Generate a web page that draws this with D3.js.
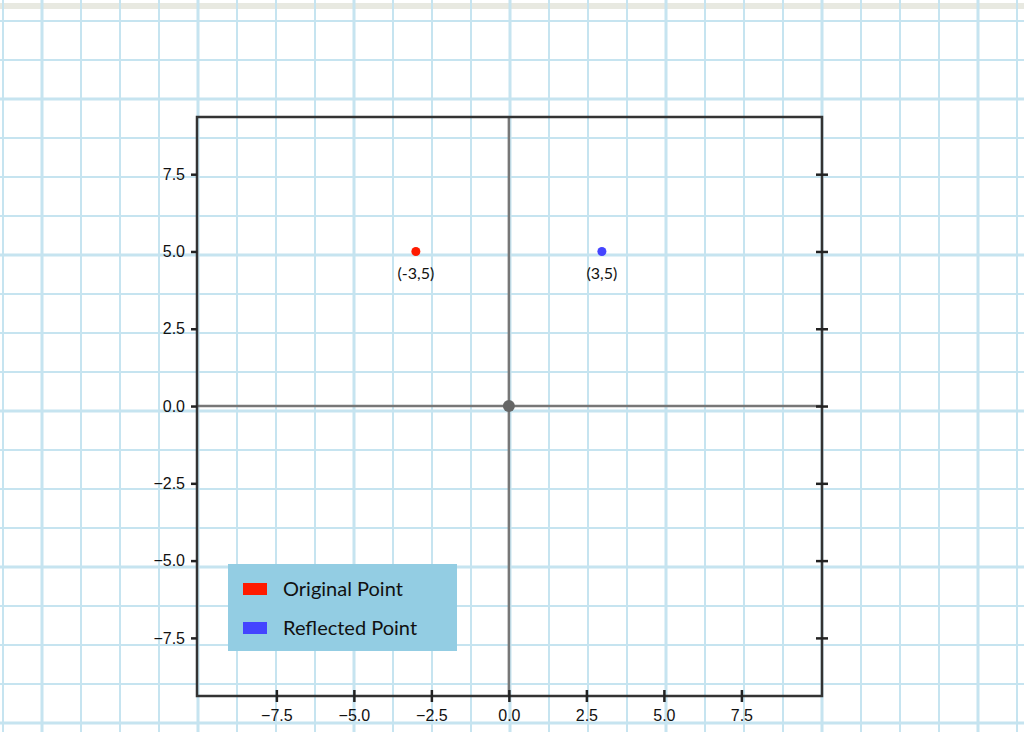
<!DOCTYPE html>
<html><head><meta charset="utf-8">
<script src="https://cdn.jsdelivr.net/npm/d3@7"></script>
<style>body{margin:0;background:#fff;}svg{display:block;font-family:Lato,"Open Sans",sans-serif;}</style>
</head><body>
<svg id="c" width="1024" height="732"></svg>
<script>
const points = [
  {name: "Original Point", x: -3, y: 5, label: "(-3,5)", color: "#ff1a00"},
  {name: "Reflected Point", x: 3, y: 5, label: "(3,5)", color: "#4444ff"}
];
const xTicks = [-7.5, -5, -2.5, 0, 2.5, 5, 7.5];
const yTicks = [-7.5, -5, -2.5, 0, 2.5, 5, 7.5];

const svg = d3.select("#c");
const W = 1024, H = 732;

// graph paper background
const bg = svg.append("g");
bg.append("rect").attr("x", 0).attr("y", 3).attr("width", W).attr("height", 6).attr("fill", "#e8e9e1");
for (let i = 0; i * 39 + 3 <= W; i++) {
  const x = 3 + i * 39;
  bg.append("line").attr("x1", x).attr("x2", x).attr("y1", 0).attr("y2", H)
    .attr("stroke", "#c6e4f0").attr("stroke-width", (i % 4 === 1) ? 3 : 2);
}
for (let j = 0; j * 39 + 21 <= H; j++) {
  const y = 21 + j * 39;
  bg.append("line").attr("x1", 0).attr("x2", W).attr("y1", y).attr("y2", y)
    .attr("stroke", "#c6e4f0").attr("stroke-width", (j % 4 === 2) ? 3 : 2);
}

const L = 197, R = 822, T = 117, B = 696;
const x = d3.scaleLinear().domain([-10.06, 10.1]).range([L, R]);
const y = d3.scaleLinear().domain([-9.38, 9.35]).range([B, T]);

// zero axes
svg.append("line").attr("x1", L).attr("x2", R).attr("y1", y(0)).attr("y2", y(0))
  .attr("stroke", "#777").attr("stroke-width", 2.5);
svg.append("line").attr("x1", x(0)).attr("x2", x(0)).attr("y1", T).attr("y2", B)
  .attr("stroke", "#777").attr("stroke-width", 2.5);
svg.append("circle").attr("cx", x(0)).attr("cy", y(0)).attr("r", 6).attr("fill", "#666");

// frame
svg.append("rect").attr("x", L).attr("y", T).attr("width", R - L).attr("height", B - T)
  .attr("fill", "none").attr("stroke", "#333").attr("stroke-width", 2.5);

function styleAxis(g) {
  g.select(".domain").remove();
  g.selectAll(".tick line").attr("stroke", "#222").attr("stroke-width", 2.5);
  g.selectAll(".tick text").attr("fill", "#111").style("font-size", "16px");
}
const fmt = d3.format(".1f");
svg.append("g").attr("transform", `translate(${L},0)`)
  .call(d3.axisLeft(y).tickValues(yTicks).tickFormat(fmt).tickSizeInner(6).tickSizeOuter(0).tickPadding(6))
  .call(styleAxis).selectAll(".tick line").attr("x1", 0).attr("x2", -6);
svg.append("g").attr("transform", `translate(${R},0)`)
  .call(d3.axisRight(y).tickValues(yTicks).tickFormat("").tickSizeInner(6).tickSizeOuter(0))
  .call(styleAxis).selectAll(".tick line").attr("x1", -6).attr("x2", 6);
svg.append("g").attr("transform", `translate(0,${B})`)
  .call(d3.axisBottom(x).tickValues(xTicks).tickFormat(fmt).tickSizeInner(6).tickSizeOuter(0).tickPadding(8))
  .call(styleAxis).selectAll(".tick line").attr("y1", -6).attr("y2", 6);

// points
const pg = svg.append("g").selectAll("g").data(points).join("g");
pg.append("circle").attr("cx", d => x(d.x)).attr("cy", d => y(d.y)).attr("r", 4.5).attr("fill", d => d.color);
pg.append("text").attr("x", d => x(d.x)).attr("y", d => y(d.y) + 28).attr("text-anchor", "middle")
  .style("font-size", "16px").attr("fill", "#111").text(d => d.label);

// legend
const lg = svg.append("g").attr("transform", "translate(228,564)");
lg.append("rect").attr("width", 229).attr("height", 87).attr("fill", "#93cde3");
const li = lg.selectAll("g").data(points).join("g").attr("transform", (d, i) => `translate(15,${25 + i * 39})`);
li.append("rect").attr("y", -6).attr("width", 24).attr("height", 12).attr("fill", d => d.color);
li.append("text").attr("x", 40).attr("y", 7).style("font-size", "20px").attr("fill", "#111").text(d => d.name);
</script>
</body></html>
